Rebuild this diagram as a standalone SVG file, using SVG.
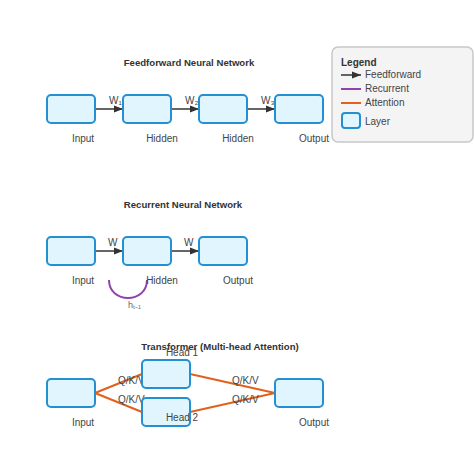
<svg xmlns="http://www.w3.org/2000/svg" width="474" height="474" viewBox="0 0 474 474">
<defs>
<style>
.box{fill:#e1f5fe;stroke:#2490d2;stroke-width:2}
.t{font-family:"Liberation Sans",Arial,sans-serif;font-size:10px;fill:#444}
.title{font-family:"Liberation Sans",Arial,sans-serif;font-size:9.6px;font-weight:bold;fill:#333;text-anchor:middle}
.lab{text-anchor:middle}
.ff{stroke:#333;stroke-width:1.5;fill:none;marker-end:url(#arr)}
.rec{stroke:#8e44ad;stroke-width:2;fill:none}
.att{stroke:#e0601c;stroke-width:2;fill:none}
</style>
<marker id="arr" viewBox="0 0 10 10" refX="10" refY="5" markerWidth="6" markerHeight="6" orient="auto" markerUnits="strokeWidth">
<path d="M0,1 L10,5 L0,9 z" fill="#333"/>
</marker>
</defs>
<rect width="474" height="474" fill="#fff"/>

<!-- Feedforward -->
<text class="title" x="189" y="66">Feedforward Neural Network</text>
<g id="connectors">
<line class="ff" x1="95" y1="109" x2="123" y2="109"/>
<line class="ff" x1="171" y1="109" x2="199" y2="109"/>
<line class="ff" x1="247" y1="109" x2="275" y2="109"/>
<line class="ff" x1="95" y1="251" x2="123" y2="251"/>
<line class="ff" x1="171" y1="251" x2="199" y2="251"/>
<path class="rec" d="M109,280 C109,304 147,304 147,280"/>
<line class="att" x1="95" y1="393" x2="142" y2="374"/>
<line class="att" x1="95" y1="393" x2="142" y2="412"/>
<line class="att" x1="190" y1="374" x2="275" y2="393"/>
<line class="att" x1="190" y1="412" x2="275" y2="393"/>
<text class="t" x="109" y="104">W₁</text>
<text class="t" x="185" y="104">W₂</text>
<text class="t" x="261" y="104">W₃</text>
<text class="t" x="108" y="246">W</text>
<text class="t" x="184" y="246">W</text>
<text class="t" x="128" y="308" style="font-size:9px;fill:#666">hₜ₋₁</text>
<text class="t" x="118" y="384">Q/K/V</text>
<text class="t" x="118" y="403">Q/K/V</text>
<text class="t" x="232" y="384">Q/K/V</text>
<text class="t" x="232" y="403">Q/K/V</text>
</g>
<g id="ff-input"><rect class="box" x="47" y="95" width="48" height="28" rx="4"/><text class="t lab" x="83" y="142">Input</text></g>
<g id="ff-hidden1"><rect class="box" x="123" y="95" width="48" height="28" rx="4"/><text class="t lab" x="162" y="142">Hidden</text></g>
<g id="ff-hidden2"><rect class="box" x="199" y="95" width="48" height="28" rx="4"/><text class="t lab" x="238" y="142">Hidden</text></g>
<g id="ff-output"><rect class="box" x="275" y="95" width="48" height="28" rx="4"/><text class="t lab" x="314" y="142">Output</text></g>

<!-- RNN -->
<text class="title" x="183" y="208">Recurrent Neural Network</text>
<g id="rnn-input"><rect class="box" x="47" y="237" width="48" height="28" rx="4"/><text class="t lab" x="83" y="284">Input</text></g>
<g id="rnn-hidden"><rect class="box" x="123" y="237" width="48" height="28" rx="4"/><text class="t lab" x="162" y="284">Hidden</text></g>
<g id="rnn-output"><rect class="box" x="199" y="237" width="48" height="28" rx="4"/><text class="t lab" x="238" y="284">Output</text></g>

<!-- Transformer -->
<g id="tf-head1"><rect class="box" x="142" y="360" width="48" height="28" rx="4"/><text class="t lab" x="182" y="356">Head 1</text></g>
<g id="tf-head2"><rect class="box" x="142" y="398" width="48" height="28" rx="4"/><text class="t lab" x="182" y="421">Head 2</text></g>
<text class="title" x="220" y="350">Transformer (Multi-head Attention)</text>
<g id="tf-input"><rect class="box" x="47" y="379" width="48" height="28" rx="4"/><text class="t lab" x="83" y="426">Input</text></g>
<g id="tf-output"><rect class="box" x="275" y="379" width="48" height="28" rx="4"/><text class="t lab" x="314" y="426">Output</text></g>

<!-- Legend -->
<g id="legend">
<rect x="332" y="47" width="141" height="95" rx="6" fill="#f4f4f4" stroke="#c8c8c8" stroke-width="1.5"/>
<text class="t" x="341" y="66" style="font-weight:bold;fill:#333">Legend</text>
<line class="ff" x1="341" y1="75" x2="361" y2="75"/>
<text class="t" x="365" y="78">Feedforward</text>
<line class="rec" x1="341" y1="89" x2="361" y2="89"/>
<text class="t" x="365" y="92">Recurrent</text>
<line class="att" x1="341" y1="103" x2="361" y2="103"/>
<text class="t" x="365" y="106">Attention</text>
<rect class="box" x="342" y="113" width="18" height="15" rx="3"/>
<text class="t" x="365" y="125">Layer</text>
</g>
</svg>
